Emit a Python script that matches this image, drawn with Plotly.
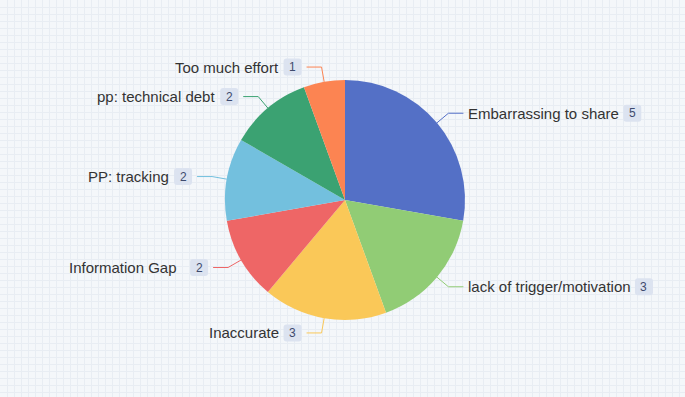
import math
import plotly.graph_objects as go

# ---------------- data ----------------
names = ["Embarrassing to share", "lack of trigger/motivation", "Inaccurate",
         "Information Gap  ", "PP: tracking", "pp: technical debt", "Too much effort"]
counts = [5, 3, 3, 2, 2, 2, 1]
colors = ["#5470c6", "#91cc75", "#fac858", "#ee6666", "#73c0de", "#3ba272", "#fc8452"]

# ---------------- layout constants ----------------
W, H = 685, 397
CX, CY, R = 345, 200, 120
LEN1, LEN2 = 15, 15
FONT = "Liberation Sans, Arial, Helvetica, sans-serif"
TEXT_SIZE = 15
BADGE_W, BADGE_H, BADGE_R = 18, 17, 3
BADGE_BG = "#dce3f0"
BADGE_FG = "#3e4a6d"

# Arial / Liberation Sans advance widths (per 1000 em)
AW = {' ': 278, '\u00a0': 278, 'a': 556, 'b': 556, 'c': 500, 'd': 556, 'e': 556, 'f': 278,
      'g': 556, 'h': 556, 'i': 222, 'j': 222, 'k': 500, 'l': 222, 'm': 833, 'n': 556,
      'o': 556, 'p': 556, 'q': 556, 'r': 333, 's': 500, 't': 278, 'u': 556, 'v': 500,
      'w': 722, 'x': 500, 'y': 500, 'z': 500, '/': 278, ':': 278, 'E': 667, 'I': 278,
      'P': 667, 'T': 611, 'G': 778}


def text_w(s, size=TEXT_SIZE):
    return sum(AW.get(ch, 556) for ch in s) * size / 1000.0


def rounded_rect(x0, y0, x1, y1, r):
    return (f"M{x0 + r},{y0} L{x1 - r},{y0} Q{x1},{y0} {x1},{y0 + r} "
            f"L{x1},{y1 - r} Q{x1},{y1} {x1 - r},{y1} L{x0 + r},{y1} "
            f"Q{x0},{y1} {x0},{y1 - r} L{x0},{y0 + r} Q{x0},{y0} {x0 + r},{y0} Z")


fig = go.Figure()

fig.add_trace(go.Pie(
    labels=[n.strip() for n in names], values=counts, sort=False,
    direction="clockwise", rotation=0,
    marker=dict(colors=colors, line=dict(width=0)),
    textinfo="none", hoverinfo="label+value+percent", showlegend=False,
    domain=dict(x=[(CX - R) / W, (CX + R) / W], y=[(H - CY - R) / H, (H - CY + R) / H]),
))

total = sum(counts)
shapes, annots = [], []
cum = 0
for name, val, col in zip(names, counts, colors):
    mid = (cum + val / 2) / total * 2 * math.pi
    cum += val
    s, c = math.sin(mid), math.cos(mid)
    x0, y0 = CX + R * s, CY - R * c
    x1, y1 = CX + (R + LEN1) * s, CY - (R + LEN1) * c
    right = s >= 0
    x2 = x1 + (LEN2 if right else -LEN2)
    shapes.append(dict(type="path", xref="x", yref="y", layer="above",
                       path=f"M{x0},{y0} L{x1},{y1} L{x2},{y1}",
                       line=dict(color=col, width=1)))
    disp = name.replace(" ", "\u00a0")
    tw = text_w(name)
    if right:
        tx = x2 + 5
        bx0 = tx + tw + 4
        annots.append(dict(x=tx, y=y1, xref="x", yref="y", text=disp, showarrow=False,
                           xanchor="left", yanchor="middle", borderpad=0, borderwidth=0,
                           font=dict(family=FONT, size=TEXT_SIZE, color="#333333")))
    else:
        bx0 = x2 - 5 - BADGE_W
        annots.append(dict(x=bx0 - 5, y=y1, xref="x", yref="y", text=disp, showarrow=False,
                           xanchor="right", yanchor="middle", borderpad=0, borderwidth=0,
                           font=dict(family=FONT, size=TEXT_SIZE, color="#333333")))
    by0 = y1 - BADGE_H / 2
    shapes.append(dict(type="path", xref="x", yref="y", layer="above",
                       path=rounded_rect(bx0, by0, bx0 + BADGE_W, by0 + BADGE_H, BADGE_R),
                       fillcolor=BADGE_BG, line=dict(width=0)))
    annots.append(dict(x=bx0 + BADGE_W / 2, y=y1, xref="x", yref="y", text=str(val),
                       showarrow=False, xanchor="center", yanchor="middle",
                       borderpad=0, borderwidth=0,
                       font=dict(family=FONT, size=12, color=BADGE_FG)))

fig.update_layout(
    width=W, height=H, margin=dict(l=0, r=0, t=0, b=0),
    paper_bgcolor="#f4f7fa", plot_bgcolor="#f4f7fa",
    xaxis=dict(range=[0, W], showgrid=True, gridcolor="#e8edf3", gridwidth=1,
               tick0=0, dtick=7, showticklabels=False, zeroline=False,
               showline=False, ticks="", fixedrange=True),
    yaxis=dict(range=[H, 0], showgrid=True, gridcolor="#e8edf3", gridwidth=1,
               tick0=0, dtick=7, showticklabels=False, zeroline=False,
               showline=False, ticks="", fixedrange=True),
    shapes=shapes, annotations=annots,
)

fig.write_html("out.html", config={"displayModeBar": False},
               post_script="document.body.style.margin='0';")
